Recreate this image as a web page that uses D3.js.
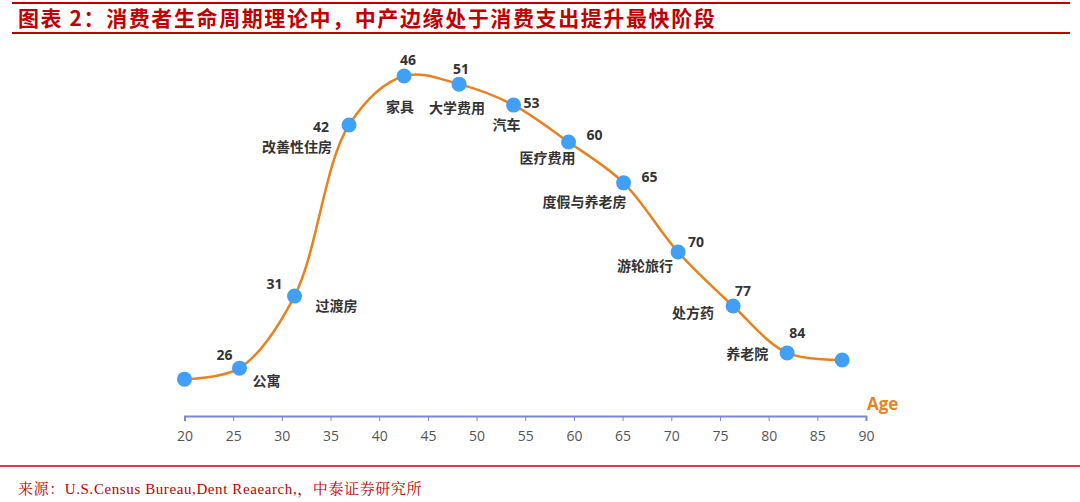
<!DOCTYPE html>
<html><head><meta charset="utf-8">
<script src="https://cdn.jsdelivr.net/npm/d3@7"></script>
<style>body{margin:0;background:#fff}</style></head>
<body><svg id="c" width="1080" height="502"></svg>
<script>
const ages = [20, 25.65, 31.3, 36.9, 42.55, 48.2, 53.8, 59.45, 65.1, 70.7, 76.35, 81.9, 87.55];
const spend = [10.1, 13.2, 33.5, 81.7, 95.5, 93.2, 87.3, 76.9, 65.4, 45.9, 30.7, 17.5, 15.5];
const numLabels = ["", "26", "31", "42", "46", "51", "53", "60", "65", "70", "77", "84", ""];
const catLabels = ["", "公寓", "过渡房", "改善性住房", "家具", "大学费用", "汽车", "医疗费用", "度假与养老房", "游轮旅行", "处方药", "养老院", ""];
const numOff = [[0,0],[-15,-13],[-20,-12],[-28,2],[4,-16],[2,-15],[18,-2],[26,-7],[26,-6],[18,-10],[10,-15],[10,-20],[0,0]];
const catOff = [[0,0],[27,13],[42,10],[-52,22],[-4,31],[-2,24],[-7,20],[-21,16],[-39,19],[-33,14],[-40,7],[-40,1],[0,0]];
const xTicks = [20,25,30,35,40,45,50,55,60,65,70,75,80,85,90];

const svg = d3.select("#c");
const x = d3.scaleLinear().domain([20,90]).range([184.5,866]);
const y = d3.scaleLinear().domain([0,100]).range([415,60]);

const red="#c00000";
svg.append("line").attr("x1",12).attr("x2",1070).attr("y1",3).attr("y2",3).attr("stroke",red).attr("stroke-width",2);
svg.append("line").attr("x1",12).attr("x2",1070).attr("y1",33).attr("y2",33).attr("stroke",red).attr("stroke-width",2);
svg.append("text").attr("x",18).attr("y",26).attr("fill",red).attr("font-size",21).attr("font-weight","bold").attr("letter-spacing",1.6)
  .attr("font-family","'Noto Sans CJK SC'").text("图表 2：消费者生命周期理论中，中产边缘处于消费支出提升最快阶段");
svg.append("line").attr("x1",0).attr("x2",1080).attr("y1",466).attr("y2",466).attr("stroke",red).attr("stroke-width",1.5);
svg.append("text").attr("x",18).attr("y",494).attr("fill",red).attr("font-size",15).attr("letter-spacing",0.6)
  .attr("font-family","'Liberation Serif','Noto Serif CJK SC',serif").text("来源：U.S.Census Bureau,Dent Reaearch,，中泰证券研究所");

const ax = svg.append("g").attr("transform","translate(0,416)")
  .call(d3.axisBottom(x).tickValues(xTicks).tickSize(5).tickPadding(10));
ax.select(".domain").attr("stroke","#7b86d6").attr("stroke-width",2);
ax.selectAll(".tick line").attr("stroke","#7b86d6");
ax.selectAll("text").attr("fill","#555").attr("font-size",14).attr("font-family","'Open Sans',sans-serif");
svg.append("text").attr("x",867).attr("y",410).attr("fill","#e8821e").attr("font-size",17).attr("font-weight","bold")
  .attr("font-family","'Open Sans',sans-serif").text("Age");

const pts = ages.map((a,i)=>[x(a),y(spend[i])]);
svg.append("path").attr("d",d3.line().curve(d3.curveCatmullRom.alpha(0.5))(pts))
  .attr("fill","none").attr("stroke","#e8821e").attr("stroke-width",2.5);
svg.selectAll("circle").data(pts).join("circle").attr("cx",d=>d[0]).attr("cy",d=>d[1]).attr("r",7.5).attr("fill","#41a0f5");
svg.selectAll(".n").data(pts).join("text").attr("class","n")
  .attr("x",(d,i)=>d[0]+numOff[i][0]).attr("y",(d,i)=>d[1]+numOff[i][1]+5).attr("text-anchor","middle")
  .attr("font-size",14).attr("font-weight","bold").attr("fill","#333").attr("font-family","'Open Sans',sans-serif")
  .text((d,i)=>numLabels[i]);
svg.selectAll(".k").data(pts).join("text").attr("class","k")
  .attr("x",(d,i)=>d[0]+catOff[i][0]).attr("y",(d,i)=>d[1]+catOff[i][1]+5).attr("text-anchor","middle")
  .attr("font-size",14).attr("font-weight","bold").attr("fill","#333").attr("font-family","'Noto Sans CJK SC'")
  .text((d,i)=>catLabels[i]);
</script></body></html>
